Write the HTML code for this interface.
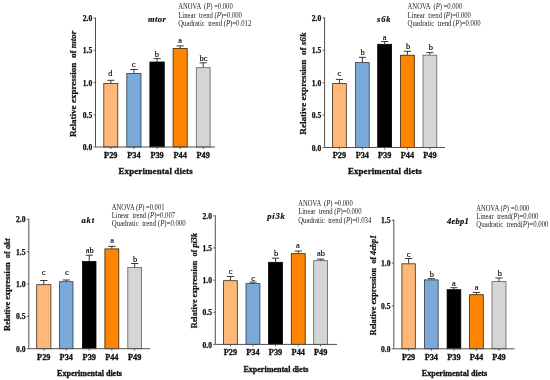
<!DOCTYPE html>
<html><head><meta charset="utf-8"><style>
html,body{margin:0;padding:0;background:#fff;width:550px;height:380px;overflow:hidden}
svg{display:block;will-change:transform}
text{font-family:"Liberation Serif",serif;fill:#111;white-space:pre}
.lt{font-size:8.4px;fill:#000;stroke:#000;stroke-width:0.15px}
.tk{font-size:7.6px;font-weight:bold;stroke:#111;stroke-width:0.25px}
.xl{font-size:8.3px;font-weight:bold;stroke:#111;stroke-width:0.3px}
.ti{font-size:8.5px;font-weight:bold;font-style:italic;stroke:#111;stroke-width:0.2px}
.an{font-size:7.2px;fill:#222}
.yl{font-weight:bold;stroke:#111;stroke-width:0.25px}
.ex{font-weight:bold;stroke:#111;stroke-width:0.3px}
</style></head><body>
<svg width="550" height="380" viewBox="0 0 550 380">
<rect width="550" height="380" fill="#fff"/>
<g><rect x="103.8" y="83.5" width="14" height="63.5" fill="#FEB877" stroke="#3a2a1a" stroke-width="0.8"/>
<path d="M110.8 83.1V80.3M107.2 80.3H114.4" stroke="#222" stroke-width="0.9" fill="none"/>
<text x="110.25" y="75.7" text-anchor="middle" class="lt">d</text>
<rect x="126.8" y="73.5" width="14.2" height="73.5" fill="#7AABD8" stroke="#2a3a4a" stroke-width="0.8"/>
<path d="M133.9 73.1V69.5M130.3 69.5H137.5" stroke="#222" stroke-width="0.9" fill="none"/>
<text x="133.65" y="66.5" text-anchor="middle" class="lt">c</text>
<rect x="149.9" y="62" width="14.4" height="85" fill="#000000" stroke="#000000" stroke-width="0.8"/>
<path d="M157.1 61.6V58.6M153.5 58.6H160.7" stroke="#222" stroke-width="0.9" fill="none"/>
<text x="156.95" y="56.7" text-anchor="middle" class="lt">b</text>
<rect x="173.1" y="48.6" width="14.1" height="98.4" fill="#FF8402" stroke="#3a2000" stroke-width="0.8"/>
<path d="M180.15 48.2V45.9M176.55 45.9H183.75" stroke="#222" stroke-width="0.9" fill="none"/>
<text x="180.1" y="43.1" text-anchor="middle" class="lt">a</text>
<rect x="196.3" y="67.7" width="13.8" height="79.3" fill="#D5D5D5" stroke="#606060" stroke-width="0.8"/>
<path d="M203.2 67.3V62.8M199.6 62.8H206.8" stroke="#222" stroke-width="0.9" fill="none"/>
<text x="203.55" y="60.5" text-anchor="middle" class="lt">bc</text>
<path d="M95.5 17.6V147H215" stroke="#505050" stroke-width="1" fill="none"/>
<path d="M93.5 147H95.5" stroke="#505050" stroke-width="0.9"/>
<text x="92.2" y="150.1" text-anchor="end" class="tk">0.0</text>
<path d="M93.5 114.78H95.5" stroke="#505050" stroke-width="0.9"/>
<text x="92.2" y="117.88" text-anchor="end" class="tk">0.5</text>
<path d="M93.5 82.55H95.5" stroke="#505050" stroke-width="0.9"/>
<text x="92.2" y="85.65" text-anchor="end" class="tk">1.0</text>
<path d="M93.5 50.32H95.5" stroke="#505050" stroke-width="0.9"/>
<text x="92.2" y="53.42" text-anchor="end" class="tk">1.5</text>
<path d="M93.5 18.1H95.5" stroke="#505050" stroke-width="0.9"/>
<text x="92.2" y="21.2" text-anchor="end" class="tk">2.0</text>
<path d="M110.8 147V149" stroke="#505050" stroke-width="0.9"/>
<text x="110.8" y="158" text-anchor="middle" class="xl">P29</text>
<path d="M133.9 147V149" stroke="#505050" stroke-width="0.9"/>
<text x="133.9" y="158" text-anchor="middle" class="xl">P34</text>
<path d="M157.1 147V149" stroke="#505050" stroke-width="0.9"/>
<text x="157.1" y="158" text-anchor="middle" class="xl">P39</text>
<path d="M180.15 147V149" stroke="#505050" stroke-width="0.9"/>
<text x="180.15" y="158" text-anchor="middle" class="xl">P44</text>
<path d="M203.2 147V149" stroke="#505050" stroke-width="0.9"/>
<text x="203.2" y="158" text-anchor="middle" class="xl">P49</text>
<text x="147.9" y="22" class="ti" textLength="18" lengthAdjust="spacing">mtor</text>
<text x="178.2" y="8.7" class="an" textLength="54.5" lengthAdjust="spacingAndGlyphs">ANOVA  (<tspan font-style="italic">P</tspan>) =0.000</text>
<text x="178.2" y="17.7" class="an" textLength="63.8" lengthAdjust="spacingAndGlyphs">Linear  trend (<tspan font-style="italic">P</tspan>)=0.000</text>
<text x="178.2" y="26.2" class="an" textLength="73.1" lengthAdjust="spacingAndGlyphs">Quadratic  trend (<tspan font-style="italic">P</tspan>)=0.012</text>
<text transform="translate(75.8 137) rotate(-90)" class="yl" font-size="9.0" textLength="106.3" lengthAdjust="spacingAndGlyphs">Relative expression  of <tspan font-style="italic">mtor</tspan></text>
<text x="118.5" y="174.3" class="ex" font-size="8.9" textLength="74.2" lengthAdjust="spacing">Experimental diets</text></g>
<g><rect x="332.6" y="83.6" width="13.7" height="63.9" fill="#FEB877" stroke="#3a2a1a" stroke-width="0.8"/>
<path d="M339.45 83.2V79.4M335.85 79.4H343.05" stroke="#222" stroke-width="0.9" fill="none"/>
<text x="339.4" y="76.1" text-anchor="middle" class="lt">c</text>
<rect x="355.5" y="62.6" width="13.7" height="84.9" fill="#7AABD8" stroke="#2a3a4a" stroke-width="0.8"/>
<path d="M362.35 62.2V57.3M358.75 57.3H365.95" stroke="#222" stroke-width="0.9" fill="none"/>
<text x="362.55" y="54.5" text-anchor="middle" class="lt">b</text>
<rect x="377.7" y="44.3" width="13.9" height="103.2" fill="#000000" stroke="#000000" stroke-width="0.8"/>
<path d="M384.65 43.9V41.5M381.05 41.5H388.25" stroke="#222" stroke-width="0.9" fill="none"/>
<text x="384.5" y="39.5" text-anchor="middle" class="lt">a</text>
<rect x="400.6" y="55.2" width="13.7" height="92.3" fill="#FF8402" stroke="#3a2000" stroke-width="0.8"/>
<path d="M407.45 54.8V51.3M403.85 51.3H411.05" stroke="#222" stroke-width="0.9" fill="none"/>
<text x="408" y="48.5" text-anchor="middle" class="lt">b</text>
<rect x="423" y="55.2" width="13.8" height="92.3" fill="#D5D5D5" stroke="#606060" stroke-width="0.8"/>
<path d="M429.9 54.8V52.6M426.3 52.6H433.5" stroke="#222" stroke-width="0.9" fill="none"/>
<text x="430.8" y="50.2" text-anchor="middle" class="lt">b</text>
<path d="M324.6 17.4V147.5H445" stroke="#505050" stroke-width="1" fill="none"/>
<path d="M322.6 147.5H324.6" stroke="#505050" stroke-width="0.9"/>
<text x="321.3" y="150.6" text-anchor="end" class="tk">0.0</text>
<path d="M322.6 115.1H324.6" stroke="#505050" stroke-width="0.9"/>
<text x="321.3" y="118.2" text-anchor="end" class="tk">0.5</text>
<path d="M322.6 82.7H324.6" stroke="#505050" stroke-width="0.9"/>
<text x="321.3" y="85.8" text-anchor="end" class="tk">1.0</text>
<path d="M322.6 50.3H324.6" stroke="#505050" stroke-width="0.9"/>
<text x="321.3" y="53.4" text-anchor="end" class="tk">1.5</text>
<path d="M322.6 17.9H324.6" stroke="#505050" stroke-width="0.9"/>
<text x="321.3" y="21" text-anchor="end" class="tk">2.0</text>
<path d="M339.45 147.5V149.5" stroke="#505050" stroke-width="0.9"/>
<text x="339.45" y="158" text-anchor="middle" class="xl">P29</text>
<path d="M362.35 147.5V149.5" stroke="#505050" stroke-width="0.9"/>
<text x="362.35" y="158" text-anchor="middle" class="xl">P34</text>
<path d="M384.65 147.5V149.5" stroke="#505050" stroke-width="0.9"/>
<text x="384.65" y="158" text-anchor="middle" class="xl">P39</text>
<path d="M407.45 147.5V149.5" stroke="#505050" stroke-width="0.9"/>
<text x="407.45" y="158" text-anchor="middle" class="xl">P44</text>
<path d="M429.9 147.5V149.5" stroke="#505050" stroke-width="0.9"/>
<text x="429.9" y="158" text-anchor="middle" class="xl">P49</text>
<text x="377.1" y="22.1" class="ti" textLength="13.4" lengthAdjust="spacing">s6k</text>
<text x="407.6" y="8.8" class="an" textLength="54.6" lengthAdjust="spacingAndGlyphs">ANOVA  (<tspan font-style="italic">P</tspan>) =0.000</text>
<text x="407.6" y="17.5" class="an" textLength="63.3" lengthAdjust="spacingAndGlyphs">Linear  trend (<tspan font-style="italic">P</tspan>)=0.000</text>
<text x="407.6" y="25.6" class="an" textLength="73.1" lengthAdjust="spacingAndGlyphs">Quadratic  trend (<tspan font-style="italic">P</tspan>)=0.000</text>
<text transform="translate(305.9 134.7) rotate(-90)" class="yl" font-size="9.0" textLength="102.2" lengthAdjust="spacingAndGlyphs">Relative expression  of <tspan font-style="italic">s6k</tspan></text>
<text x="347.9" y="174.2" class="ex" font-size="8.9" textLength="73.9" lengthAdjust="spacing">Experimental diets</text></g>
<g><rect x="36.7" y="284.7" width="14.2" height="64" fill="#FEB877" stroke="#3a2a1a" stroke-width="0.8"/>
<path d="M43.8 284.3V280.5M40.2 280.5H47.4" stroke="#222" stroke-width="0.9" fill="none"/>
<text x="43.55" y="275.3" text-anchor="middle" class="lt">c</text>
<rect x="59.6" y="281.7" width="13.4" height="67" fill="#7AABD8" stroke="#2a3a4a" stroke-width="0.8"/>
<path d="M66.3 281.3V280M62.7 280H69.9" stroke="#222" stroke-width="0.9" fill="none"/>
<text x="66.75" y="275.3" text-anchor="middle" class="lt">c</text>
<rect x="82.5" y="261.5" width="13.5" height="87.2" fill="#000000" stroke="#000000" stroke-width="0.8"/>
<path d="M89.25 261.1V255.2M85.65 255.2H92.85" stroke="#222" stroke-width="0.9" fill="none"/>
<text x="89.8" y="252.7" text-anchor="middle" class="lt">ab</text>
<rect x="104.9" y="248.9" width="13.9" height="99.8" fill="#FF8402" stroke="#3a2000" stroke-width="0.8"/>
<path d="M111.85 248.5V246.3M108.25 246.3H115.45" stroke="#222" stroke-width="0.9" fill="none"/>
<text x="112.15" y="243" text-anchor="middle" class="lt">a</text>
<rect x="127.8" y="267.5" width="13.7" height="81.2" fill="#D5D5D5" stroke="#606060" stroke-width="0.8"/>
<path d="M134.65 267.1V263.5M131.05 263.5H138.25" stroke="#222" stroke-width="0.9" fill="none"/>
<text x="135.1" y="261.6" text-anchor="middle" class="lt">b</text>
<path d="M28.8 218.8V348.7H150" stroke="#505050" stroke-width="1" fill="none"/>
<path d="M26.8 348.7H28.8" stroke="#505050" stroke-width="0.9"/>
<text x="25.5" y="351.8" text-anchor="end" class="tk">0.0</text>
<path d="M26.8 316.35H28.8" stroke="#505050" stroke-width="0.9"/>
<text x="25.5" y="319.45" text-anchor="end" class="tk">0.5</text>
<path d="M26.8 284H28.8" stroke="#505050" stroke-width="0.9"/>
<text x="25.5" y="287.1" text-anchor="end" class="tk">1.0</text>
<path d="M26.8 251.65H28.8" stroke="#505050" stroke-width="0.9"/>
<text x="25.5" y="254.75" text-anchor="end" class="tk">1.5</text>
<path d="M26.8 219.3H28.8" stroke="#505050" stroke-width="0.9"/>
<text x="25.5" y="222.4" text-anchor="end" class="tk">2.0</text>
<path d="M43.8 348.7V350.7" stroke="#505050" stroke-width="0.9"/>
<text x="43.8" y="359.6" text-anchor="middle" class="xl">P29</text>
<path d="M66.3 348.7V350.7" stroke="#505050" stroke-width="0.9"/>
<text x="66.3" y="359.6" text-anchor="middle" class="xl">P34</text>
<path d="M89.25 348.7V350.7" stroke="#505050" stroke-width="0.9"/>
<text x="89.25" y="359.6" text-anchor="middle" class="xl">P39</text>
<path d="M111.85 348.7V350.7" stroke="#505050" stroke-width="0.9"/>
<text x="111.85" y="359.6" text-anchor="middle" class="xl">P44</text>
<path d="M134.65 348.7V350.7" stroke="#505050" stroke-width="0.9"/>
<text x="134.65" y="359.6" text-anchor="middle" class="xl">P49</text>
<text x="81.6" y="223.1" class="ti" textLength="12.4" lengthAdjust="spacing">akt</text>
<text x="111.8" y="210" class="an" textLength="52.7" lengthAdjust="spacingAndGlyphs">ANOVA (<tspan font-style="italic">P</tspan>) =0.001</text>
<text x="111.8" y="218.2" class="an" textLength="63.3" lengthAdjust="spacingAndGlyphs">Linear  trend (<tspan font-style="italic">P</tspan>)=0.007</text>
<text x="111.8" y="226.4" class="an" textLength="74" lengthAdjust="spacingAndGlyphs">Quadratic  trend (<tspan font-style="italic">P</tspan>)=0.000</text>
<text transform="translate(9.5 331) rotate(-90)" class="yl" font-size="8.2" textLength="92.6" lengthAdjust="spacingAndGlyphs">Relative expression  of <tspan font-style="italic">akt</tspan></text>
<text x="57" y="376.2" class="ex" font-size="8.1" textLength="65" lengthAdjust="spacing">Experimental diets</text></g>
<g><rect x="223.6" y="280.7" width="13.7" height="63.7" fill="#FEB877" stroke="#3a2a1a" stroke-width="0.8"/>
<path d="M230.45 280.3V276.5M226.85 276.5H234.05" stroke="#222" stroke-width="0.9" fill="none"/>
<text x="230.6" y="273.7" text-anchor="middle" class="lt">c</text>
<rect x="246" y="283.6" width="13.9" height="60.8" fill="#7AABD8" stroke="#2a3a4a" stroke-width="0.8"/>
<path d="M252.95 283.2V282.1M249.35 282.1H256.55" stroke="#222" stroke-width="0.9" fill="none"/>
<text x="253" y="280.5" text-anchor="middle" class="lt">c</text>
<rect x="268.6" y="262.3" width="13.8" height="82.1" fill="#000000" stroke="#000000" stroke-width="0.8"/>
<path d="M275.5 261.9V258.2M271.9 258.2H279.1" stroke="#222" stroke-width="0.9" fill="none"/>
<text x="276.05" y="255.9" text-anchor="middle" class="lt">b</text>
<rect x="291.3" y="253.7" width="13.9" height="90.7" fill="#FF8402" stroke="#3a2000" stroke-width="0.8"/>
<path d="M298.25 253.3V251M294.65 251H301.85" stroke="#222" stroke-width="0.9" fill="none"/>
<text x="297.85" y="247.8" text-anchor="middle" class="lt">a</text>
<rect x="313.7" y="260.7" width="13.9" height="83.7" fill="#D5D5D5" stroke="#606060" stroke-width="0.8"/>
<path d="M320.65 260.3V259.2M317.05 259.2H324.25" stroke="#222" stroke-width="0.9" fill="none"/>
<text x="321" y="256.3" text-anchor="middle" class="lt">ab</text>
<path d="M215.3 215.3V344.4H337" stroke="#505050" stroke-width="1" fill="none"/>
<path d="M213.3 344.4H215.3" stroke="#505050" stroke-width="0.9"/>
<text x="212" y="347.5" text-anchor="end" class="tk">0.0</text>
<path d="M213.3 312.25H215.3" stroke="#505050" stroke-width="0.9"/>
<text x="212" y="315.35" text-anchor="end" class="tk">0.5</text>
<path d="M213.3 280.1H215.3" stroke="#505050" stroke-width="0.9"/>
<text x="212" y="283.2" text-anchor="end" class="tk">1.0</text>
<path d="M213.3 247.95H215.3" stroke="#505050" stroke-width="0.9"/>
<text x="212" y="251.05" text-anchor="end" class="tk">1.5</text>
<path d="M213.3 215.8H215.3" stroke="#505050" stroke-width="0.9"/>
<text x="212" y="218.9" text-anchor="end" class="tk">2.0</text>
<path d="M230.45 344.4V346.4" stroke="#505050" stroke-width="0.9"/>
<text x="230.45" y="355" text-anchor="middle" class="xl">P29</text>
<path d="M252.95 344.4V346.4" stroke="#505050" stroke-width="0.9"/>
<text x="252.95" y="355" text-anchor="middle" class="xl">P34</text>
<path d="M275.5 344.4V346.4" stroke="#505050" stroke-width="0.9"/>
<text x="275.5" y="355" text-anchor="middle" class="xl">P39</text>
<path d="M298.25 344.4V346.4" stroke="#505050" stroke-width="0.9"/>
<text x="298.25" y="355" text-anchor="middle" class="xl">P44</text>
<path d="M320.65 344.4V346.4" stroke="#505050" stroke-width="0.9"/>
<text x="320.65" y="355" text-anchor="middle" class="xl">P49</text>
<text x="267.3" y="218.8" class="ti" textLength="17.4" lengthAdjust="spacing">pi3k</text>
<text x="298.2" y="206.1" class="an" textLength="54.5" lengthAdjust="spacingAndGlyphs">ANOVA  (<tspan font-style="italic">P</tspan>) =0.000</text>
<text x="298.2" y="214.1" class="an" textLength="63.3" lengthAdjust="spacingAndGlyphs">Linear  trend (<tspan font-style="italic">P</tspan>)=0.000</text>
<text x="298.2" y="222.9" class="an" textLength="73.1" lengthAdjust="spacingAndGlyphs">Quadratic  trend (<tspan font-style="italic">P</tspan>)=0.034</text>
<text transform="translate(196.6 328.2) rotate(-90)" class="yl" font-size="8.2" textLength="95.2" lengthAdjust="spacingAndGlyphs">Relative expression  of <tspan font-style="italic">pi3k</tspan></text>
<text x="243.4" y="371.6" class="ex" font-size="8.1" textLength="65.1" lengthAdjust="spacing">Experimental diets</text></g>
<g><rect x="401.9" y="263.8" width="13.4" height="85" fill="#FEB877" stroke="#3a2a1a" stroke-width="0.8"/>
<path d="M408.6 263.4V258.5M405 258.5H412.2" stroke="#222" stroke-width="0.9" fill="none"/>
<text x="408.65" y="256.6" text-anchor="middle" class="lt">c</text>
<rect x="424.5" y="279.9" width="13.7" height="68.9" fill="#7AABD8" stroke="#2a3a4a" stroke-width="0.8"/>
<path d="M431.35 279.5V278.7M427.75 278.7H434.95" stroke="#222" stroke-width="0.9" fill="none"/>
<text x="431.8" y="276.6" text-anchor="middle" class="lt">b</text>
<rect x="447.1" y="289.7" width="13.7" height="59.1" fill="#000000" stroke="#000000" stroke-width="0.8"/>
<path d="M453.95 289.3V287.7M450.35 287.7H457.55" stroke="#222" stroke-width="0.9" fill="none"/>
<text x="453.95" y="285.8" text-anchor="middle" class="lt">a</text>
<rect x="469.6" y="294.7" width="13.7" height="54.1" fill="#FF8402" stroke="#3a2000" stroke-width="0.8"/>
<path d="M476.45 294.3V292.4M472.85 292.4H480.05" stroke="#222" stroke-width="0.9" fill="none"/>
<text x="476.55" y="289.5" text-anchor="middle" class="lt">a</text>
<rect x="492" y="281.6" width="14" height="67.2" fill="#D5D5D5" stroke="#606060" stroke-width="0.8"/>
<path d="M499 281.2V278M495.4 278H502.6" stroke="#222" stroke-width="0.9" fill="none"/>
<text x="499.85" y="275.7" text-anchor="middle" class="lt">b</text>
<path d="M393.8 219.7V348.8H514.6" stroke="#505050" stroke-width="1" fill="none"/>
<path d="M391.8 348.8H393.8" stroke="#505050" stroke-width="0.9"/>
<text x="390.5" y="351.9" text-anchor="end" class="tk">0.0</text>
<path d="M391.8 305.93H393.8" stroke="#505050" stroke-width="0.9"/>
<text x="390.5" y="309.03" text-anchor="end" class="tk">0.5</text>
<path d="M391.8 263.07H393.8" stroke="#505050" stroke-width="0.9"/>
<text x="390.5" y="266.17" text-anchor="end" class="tk">1.0</text>
<path d="M391.8 220.2H393.8" stroke="#505050" stroke-width="0.9"/>
<text x="390.5" y="223.3" text-anchor="end" class="tk">1.5</text>
<path d="M408.6 348.8V350.8" stroke="#505050" stroke-width="0.9"/>
<text x="408.6" y="359.9" text-anchor="middle" class="xl">P29</text>
<path d="M431.35 348.8V350.8" stroke="#505050" stroke-width="0.9"/>
<text x="431.35" y="359.9" text-anchor="middle" class="xl">P34</text>
<path d="M453.95 348.8V350.8" stroke="#505050" stroke-width="0.9"/>
<text x="453.95" y="359.9" text-anchor="middle" class="xl">P39</text>
<path d="M476.45 348.8V350.8" stroke="#505050" stroke-width="0.9"/>
<text x="476.45" y="359.9" text-anchor="middle" class="xl">P44</text>
<path d="M499 348.8V350.8" stroke="#505050" stroke-width="0.9"/>
<text x="499" y="359.9" text-anchor="middle" class="xl">P49</text>
<text x="447" y="223.9" class="ti" textLength="21.8" lengthAdjust="spacing">4ebp1</text>
<text x="476.3" y="210.6" class="an" textLength="53" lengthAdjust="spacingAndGlyphs">ANOVA (<tspan font-style="italic">P</tspan>) =0.000</text>
<text x="476.3" y="218.7" class="an" textLength="62.1" lengthAdjust="spacingAndGlyphs">Linear  trend(<tspan font-style="italic">P</tspan>)=0.000</text>
<text x="476.3" y="226.8" class="an" textLength="72.2" lengthAdjust="spacingAndGlyphs">Quadratic  trend(<tspan font-style="italic">P</tspan>)=0.000</text>
<text transform="translate(375.5 335.2) rotate(-90)" class="yl" font-size="8.1" textLength="100.3" lengthAdjust="spacingAndGlyphs">Relative expression  of <tspan font-style="italic">4ebp1</tspan></text>
<text x="421.8" y="376.1" class="ex" font-size="8.1" textLength="65.4" lengthAdjust="spacing">Experimental diets</text></g>
</svg></body></html>
